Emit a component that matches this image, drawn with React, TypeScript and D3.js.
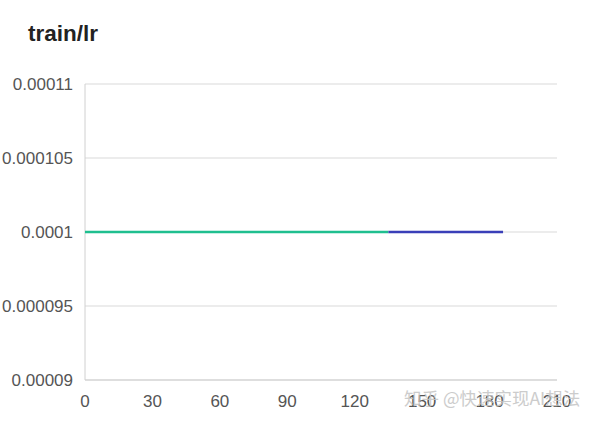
import React from "react";
import * as d3 from "d3";

const xTicks = [0, 30, 60, 90, 120, 150, 180, 210];
const yTicks = [0.00009, 0.000095, 0.0001, 0.000105, 0.00011];
const yTickLabels = ["0.00009", "0.000095", "0.0001", "0.000105", "0.00011"];
const seriesA = [
  { step: 0, value: 0.0001 },
  { step: 135, value: 0.0001 },
];
const seriesB = [
  { step: 135, value: 0.0001 },
  { step: 186, value: 0.0001 },
];
const title = "train/lr";
const watermark = "知乎 @快速实现AI想法";

export default function App() {
  const W = 600, H = 422;
  const x = d3.scaleLinear().domain([0, 210]).range([85, 557]);
  const y = d3.scaleLinear().domain([0.00009, 0.00011]).range([380, 84]);
  const line = d3
    .line<{ step: number; value: number }>()
    .x((d) => x(d.step))
    .y((d) => y(d.value));
  const font = "'Liberation Sans', Arial, sans-serif";
  return (
    <svg width={W} height={H} style={{ position: "absolute", left: 0, top: 0, background: "#fff" }} fontFamily={font}>
      <text x={28} y={41} fontSize={22.5} fontWeight="bold" fill="#222">{title}</text>
      {yTicks.map((t, i) => (
        <g key={i}>
          <line x1={85} x2={557} y1={y(t)} y2={y(t)} stroke="#d9d9d9" strokeWidth={1} />
          <text x={73} y={y(t) + 6} fontSize={17} fill="#555" textAnchor="end">{yTickLabels[i]}</text>
        </g>
      ))}
      <line x1={85} x2={85} y1={84} y2={380} stroke="#d0d0d0" strokeWidth={1} />
      <line x1={85} x2={557} y1={380} y2={380} stroke="#d0d0d0" strokeWidth={1} />
      {xTicks.map((t, i) => (
        <text key={i} x={x(t)} y={407} fontSize={17} fill="#555" textAnchor="middle">{t}</text>
      ))}
      <path d={line(seriesA) || ""} stroke="#1fbf8f" strokeWidth={2.5} fill="none" />
      <path d={line(seriesB) || ""} stroke="#3a3fb8" strokeWidth={2.5} fill="none" />
      <text x={404} y={405} fontSize={17.5} fill="#c4c4c4" opacity={0.85} fontFamily="'Noto Sans CJK SC', sans-serif">{watermark}</text>
    </svg>
  );
}
